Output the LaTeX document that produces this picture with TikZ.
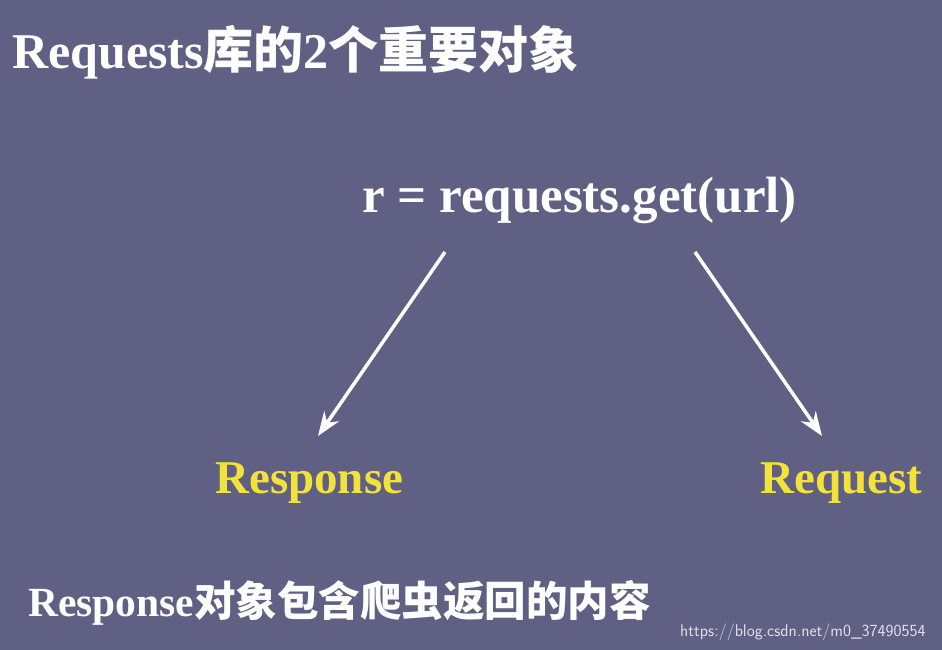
\documentclass[tikz,border=0pt]{standalone}
\usepackage{fontspec}
\usetikzlibrary{arrows.meta}
\setmainfont{Liberation Serif}
\newfontfamily\cjk{Noto Sans CJK SC}
\definecolor{bg}{HTML}{5F6083}
\definecolor{ylw}{HTML}{F2E23A}
\begin{document}
\begin{tikzpicture}[x=1pt,y=1pt,
  txt/.style={anchor=west,inner sep=0pt,font=\bfseries,text=white},
  arr/.style={draw=white,line width=3.5pt,-{Stealth[length=24pt,width=18pt]}}]
\useasboundingbox[fill=bg] (0,0) rectangle (942,650);
\node[txt,font=\fontsize{50}{50}\bfseries] (title) at (12,598) {Requests{\cjk 库的}2{\cjk 个重要对象}};
\node[txt,font=\fontsize{51}{51}\bfseries] (code) at (362,450) {r = requests.get(url)};
\node[txt,text=ylw,font=\fontsize{47}{47}\bfseries] (resp) at (215,167) {Response};
\node[txt,text=ylw,font=\fontsize{47}{47}\bfseries] (req) at (760,167) {Request};
\node[txt,font=\fontsize{41.5}{41.5}\bfseries] (note) at (28,47) {Response{\cjk 对象包含爬虫返回的内容}};
\node[anchor=west,inner sep=0pt,text=white!80!bg,font=\fontsize{17}{17}\sffamily] (wm) at (680,18) {https://blog.csdn.net/m0\_37490554};
\coordinate (a1) at (445,398); \coordinate (a2) at (318,214);
\coordinate (b1) at (695,398); \coordinate (b2) at (822,214);
\draw[arr] (a1) -- (a2);
\draw[arr] (b1) -- (b2);
\end{tikzpicture}
\end{document}
